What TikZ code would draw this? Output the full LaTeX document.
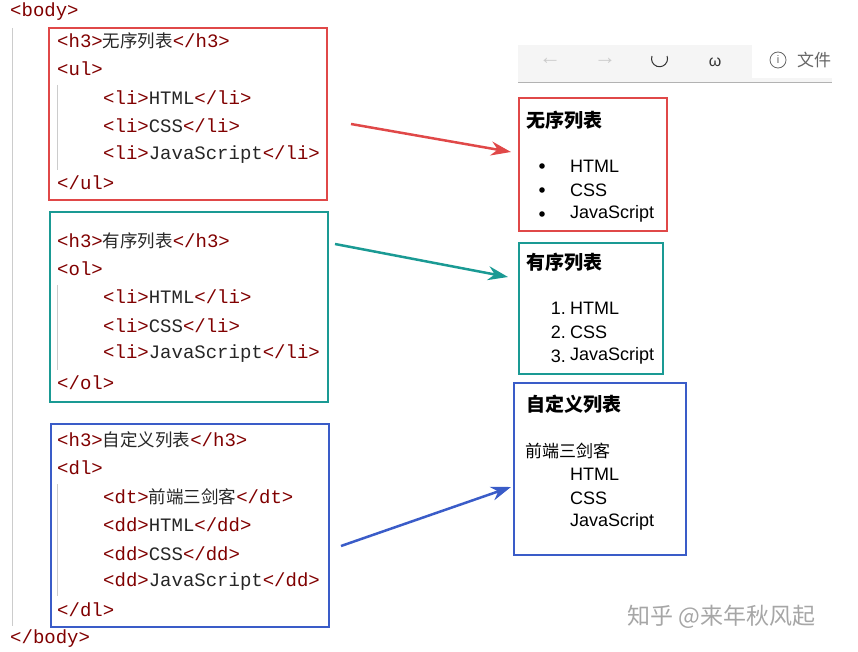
\documentclass[tikz,border=0pt]{standalone}
\usepackage{fontspec}
\setmonofont{Liberation Mono}
\setsansfont{Liberation Sans}
\newfontfamily\cjk{Noto Sans CJK SC}
\usetikzlibrary{arrows.meta}
\definecolor{tagc}{HTML}{800000}
\definecolor{rd}{HTML}{E04848}
\definecolor{tl}{HTML}{1A9A94}
\definecolor{bl}{HTML}{3A5CC8}
\begin{document}
\begin{tikzpicture}[x=1pt,y=-1pt,
 code/.style={anchor=west,inner sep=0,font=\fontsize{19}{20}\ttfamily,text=black!85},
 rt/.style={anchor=west,inner sep=0,font=\fontsize{18}{20}\sffamily},
 hd/.style={anchor=west,inner sep=0,font=\fontsize{19}{20}\cjk\bfseries},
 box/.style={draw=#1,line width=2.2pt},
 arr/.style={draw=#1,fill=#1,line width=2.5pt,-{Stealth[length=20pt,width=14pt]}},
 guide/.style={draw=black!20,line width=1pt}]
\useasboundingbox (0,0) rectangle (858,652);
\newcommand{\tg}[1]{\textcolor{tagc}{#1}}
\newcommand{\zh}[1]{{\cjk\fontsize{17.5}{20}\selectfont #1}}
% guides
\draw[guide] (12,28) -- (12,626);
\draw[guide] (57,85) -- (57,170);
\draw[guide] (57,285) -- (57,370);
\draw[guide] (57,484) -- (57,596);
% code
\node[code] (c0) at (10,12) {\tg{<body>}};
\node[code] (c1) at (57,41) {\tg{<h3>}\zh{无序列表}\tg{</h3>}};
\node[code] (c2) at (57,69) {\tg{<ul>}};
\node[code] (c3) at (103,98) {\tg{<li>}HTML\tg{</li>}};
\node[code] (c4) at (103,126) {\tg{<li>}CSS\tg{</li>}};
\node[code] (c5) at (103,155) {\tg{<li>}JavaScript\tg{</li>}};
\node[code] (c6) at (57,183) {\tg{</ul>}};
\node[code] (d1) at (57,241) {\tg{<h3>}\zh{有序列表}\tg{</h3>}};
\node[code] (d2) at (57,269) {\tg{<ol>}};
\node[code] (d3) at (103,297) {\tg{<li>}HTML\tg{</li>}};
\node[code] (d4) at (103,326) {\tg{<li>}CSS\tg{</li>}};
\node[code] (d5) at (103,354) {\tg{<li>}JavaScript\tg{</li>}};
\node[code] (d6) at (57,383) {\tg{</ol>}};
\node[code] (e1) at (57,440) {\tg{<h3>}\zh{自定义列表}\tg{</h3>}};
\node[code] (e2) at (57,468) {\tg{<dl>}};
\node[code] (e3) at (103,497) {\tg{<dt>}\zh{前端三剑客}\tg{</dt>}};
\node[code] (e4) at (103,525) {\tg{<dd>}HTML\tg{</dd>}};
\node[code] (e5) at (103,554) {\tg{<dd>}CSS\tg{</dd>}};
\node[code] (e6) at (103,582) {\tg{<dd>}JavaScript\tg{</dd>}};
\node[code] (e7) at (57,610) {\tg{</dl>}};
\node[code] (e8) at (10,639) {\tg{</body>}};
% left boxes
\draw[box=rd] (49,28) rectangle (327,200);
\draw[box=tl] (50,212) rectangle (328,402);
\draw[box=bl] (51,424) rectangle (329,627);
% browser bar
\fill[black!4] (518,45) rectangle (832,83);
\fill[white] (752,45) rectangle (832,78);
\draw[black!30,line width=1pt] (518,83) -- (832,83);
\node[font=\fontsize{22}{22}\sffamily,text=black!20,inner sep=0] (b1) at (550,61) {←};
\node[font=\fontsize{22}{22}\sffamily,text=black!20,inner sep=0] (b2) at (605,61) {→};
\draw[black!80,line width=1pt] (652,56) arc (200:-20:8);
\node[font=\fontsize{16}{16}\sffamily,text=black!80,inner sep=0] (b4) at (715,62) {ω};
\draw[black!60,line width=0.8pt] (778,60) circle (8);
\node[font=\fontsize{11}{11}\sffamily,text=black!60,inner sep=0] (b5) at (778,60) {i};
\node[font=\fontsize{17}{17}\cjk,text=black!60,inner sep=0,anchor=west] (b6) at (797,60) {文件};
% right boxes
\draw[box=rd] (519,98) rectangle (667,231);
\draw[box=tl] (519,243) rectangle (663,374);
\draw[box=bl] (514,383) rectangle (686,555);
\node[hd] (r1) at (526,120) {无序列表};
\foreach \t/\y in {HTML/166,CSS/190,JavaScript/214}{
 \fill (542,\y) circle (2.8);
 \node[rt] at (570,\y) {\t};}
\node[hd] (r2) at (526,262) {有序列表};
\foreach \n/\t/\y in {1/HTML/308,2/CSS/332,3/JavaScript/356}{
 \node[rt,anchor=east] at (566,\y) {\n.};
 \node[rt] at (570,\y) {\t};}
\node[hd] (r3) at (526,404) {自定义列表};
\node[rt,font=\fontsize{17}{20}\cjk] (r4) at (525,451) {前端三剑客};
\foreach \t/\y in {HTML/474,CSS/498,JavaScript/522}{
 \node[rt] at (570,\y) {\t};}
% arrows
\coordinate (a1) at (351,124); \coordinate (a2) at (511,152);
\coordinate (t1) at (335,244); \coordinate (t2) at (508,277);
\coordinate (u1) at (341,546); \coordinate (u2) at (511,487);
\draw[arr=rd] (a1) -- (a2);
\draw[arr=tl] (t1) -- (t2);
\draw[arr=bl] (u1) -- (u2);
% watermark
\node[anchor=west,inner sep=0,font=\fontsize{23}{24}\cjk,text=black!35] (wm) at (627,617) {知乎 @来年秋风起};
\end{tikzpicture}
\end{document}
